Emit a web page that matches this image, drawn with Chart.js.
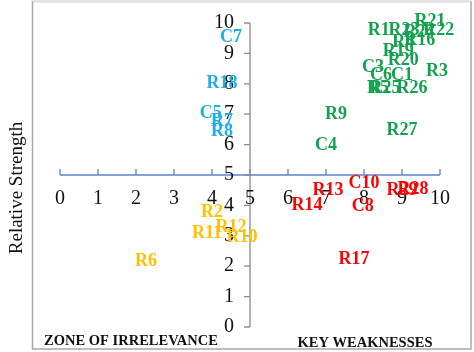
<!DOCTYPE html>
<html>
<head>
<meta charset="utf-8">
<script src="https://cdn.jsdelivr.net/npm/chart.js@4/dist/chart.umd.min.js"></script>
<style>
  html, body { margin: 0; padding: 0; background: #fff; }
  #wrap { width: 474px; height: 352px; }
</style>
</head>
<body>
<div id="wrap"><canvas id="chart" width="474" height="352"></canvas></div>
<script>
// tick labels for the two crossing axes
var xTicks = ['0', '1', '2', '3', '4', '5', '6', '7', '8', '9', '10'];
var yTicks = ['0', '1', '2', '3', '4', '5', '6', '7', '8', '9', '10'];

// green group (top right)
var greenLabels = ['C4', 'R27', 'R9', 'R26', 'R25', 'R5', 'R3', 'C1', 'C6', 'C3', 'R20', 'R19', 'R16', 'R4', 'R22', 'R24', 'R23', 'R1', 'R21'];
var greenX = [7.0, 9.0, 7.26, 9.26, 8.55, 8.37, 9.92, 9.0, 8.45, 8.24, 9.03, 8.9, 9.47, 9.03, 9.97, 9.45, 9.05, 8.39, 9.74];
var greenY = [5.99, 6.48, 7.0, 7.85, 7.85, 7.85, 8.4, 8.29, 8.29, 8.55, 8.78, 9.08, 9.44, 9.36, 9.77, 9.7, 9.77, 9.77, 10.07];

// red group (bottom right)
var redLabels = ['R17', 'R14', 'C8', 'R13', 'C10', 'R29', 'R28'];
var redX = [7.74, 6.5, 7.97, 7.05, 8.0, 9.0, 9.29];
var redY = [2.22, 4.0, 3.98, 4.5, 4.72, 4.5, 4.53];

// yellow group (bottom left)
var yellowLabels = ['R6', 'R2', 'R11', 'R12', 'R10'];
var yellowX = [2.26, 4.0, 3.87, 4.5, 4.79];
var yellowY = [2.17, 3.77, 3.09, 3.29, 2.96];

// blue group (top left)
var blueLabels = ['R8', 'R7', 'C5', 'R18', 'C7'];
var blueX = [4.26, 4.26, 3.97, 4.26, 4.5];
var blueY = [6.45, 6.78, 7.04, 8.03, 9.52];

function toPoints(xs, ys) {
    var pts = [];
    for (let i = 0; i < xs.length; i++) {
        pts.push({ x: xs[i], y: ys[i] });
    }
    return pts;
}

function makeSet(labels, xs, ys, color) {
    return {
        data: toPoints(xs, ys),
        labelsText: labels,
        labelColor: color,
        pointRadius: 0,
        pointHoverRadius: 0,
        showLine: false
    };
}

var serif = '"Liberation Serif", "DejaVu Serif", serif';

// crossing axes at (5,5), drawn through the chart's own scales
var crossAxes = {
    id: 'crossAxes',
    beforeDatasetsDraw(chart) {
        const ctx = chart.ctx;
        const xs = chart.scales.x;
        const ys = chart.scales.y;
        const axisY = ys.getPixelForValue(5);
        const axisX = xs.getPixelForValue(5);

        ctx.save();
        // frame
        ctx.strokeStyle = '#a8a8a8';
        ctx.lineWidth = 1.5;
        ctx.strokeRect(32.5, 1.5, 438.5, 347.5);
        ctx.strokeStyle = '#e2e2e2';
        ctx.lineWidth = 2;
        ctx.beginPath();
        ctx.moveTo(33, 1);
        ctx.lineTo(471, 1);
        ctx.stroke();

        // horizontal axis
        ctx.strokeStyle = '#5b84cf';
        ctx.lineWidth = 1.3;
        ctx.beginPath();
        ctx.moveTo(xs.getPixelForValue(0), axisY);
        ctx.lineTo(xs.getPixelForValue(10), axisY);
        for (let i = 0; i < xTicks.length; i++) {
            const px = xs.getPixelForValue(Number(xTicks[i]));
            ctx.moveTo(px, axisY);
            ctx.lineTo(px, axisY - 6);
        }
        ctx.stroke();

        // vertical axis
        ctx.strokeStyle = '#8c8c8c';
        ctx.beginPath();
        ctx.moveTo(axisX, ys.getPixelForValue(0));
        ctx.lineTo(axisX, ys.getPixelForValue(10));
        for (let i = 0; i < yTicks.length; i++) {
            const py = ys.getPixelForValue(Number(yTicks[i]));
            ctx.moveTo(axisX, py);
            ctx.lineTo(axisX - 6, py);
        }
        ctx.stroke();

        // tick labels
        ctx.fillStyle = '#111';
        ctx.font = '20px ' + serif;
        ctx.textAlign = 'center';
        ctx.textBaseline = 'middle';
        for (let i = 0; i < xTicks.length; i++) {
            ctx.fillText(xTicks[i], xs.getPixelForValue(Number(xTicks[i])), axisY + 24);
        }
        ctx.textAlign = 'right';
        for (let i = 0; i < yTicks.length; i++) {
            ctx.fillText(yTicks[i], axisX - 16, ys.getPixelForValue(Number(yTicks[i])));
        }

        // axis title
        ctx.save();
        ctx.translate(17, 188);
        ctx.rotate(-Math.PI / 2);
        ctx.textAlign = 'center';
        ctx.font = '19px ' + serif;
        ctx.fillText('Relative Strength', 0, 0);
        ctx.restore();

        // zone captions
        ctx.font = 'bold 14.5px ' + serif;
        ctx.textAlign = 'center';
        ctx.fillText('ZONE OF IRRELEVANCE', 131, 341);
        ctx.fillText('KEY WEAKNESSES', 365, 343);
        ctx.restore();
    }
};

// text labels in place of the markers
var pointLabels = {
    id: 'pointLabels',
    afterDatasetsDraw(chart) {
        const ctx = chart.ctx;
        ctx.save();
        ctx.font = 'bold 18px ' + serif;
        ctx.textAlign = 'center';
        ctx.textBaseline = 'middle';
        chart.data.datasets.forEach((ds, di) => {
            const meta = chart.getDatasetMeta(di);
            ctx.fillStyle = ds.labelColor;
            meta.data.forEach((pt, i) => {
                ctx.fillText(ds.labelsText[i], pt.x, pt.y);
            });
        });
        ctx.restore();
    }
};

const ctx = document.getElementById('chart').getContext('2d');
var chartId = new Chart(ctx, {
    type: 'scatter',
    data: {
        datasets: [
            makeSet(greenLabels, greenX, greenY, '#12a24f'),
            makeSet(redLabels, redX, redY, '#ff0000'),
            makeSet(yellowLabels, yellowX, yellowY, '#ffc000'),
            makeSet(blueLabels, blueX, blueY, '#1caee8')
        ]
    },
    options: {
        responsive: false,
        animation: false,
        layout: { padding: 0 },
        scales: {
            x: { type: 'linear', display: false, min: -60 / 38, max: (474 - 60) / 38 },
            y: { type: 'linear', display: false, min: (327 - 352) / 30.4, max: 327 / 30.4 }
        },
        plugins: {
            legend: { display: false },
            tooltip: { enabled: false }
        }
    },
    plugins: [crossAxes, pointLabels]
});
</script>
</body>
</html>
